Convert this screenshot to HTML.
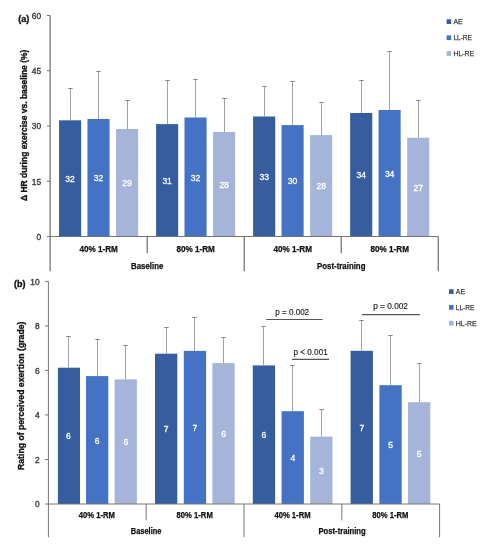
<!DOCTYPE html>
<html><head><meta charset="utf-8"><title>Figure</title>
<style>
html,body{margin:0;padding:0;background:#fff;}
body{width:487px;height:550px;overflow:hidden;}
svg{display:block;font-family:"Liberation Sans", sans-serif;filter:blur(0.3px);}
</style></head><body>
<svg width="487" height="550" viewBox="0 0 487 550">
<rect width="487" height="550" fill="#fff"/>
<rect x="59.05" y="120.30" width="22.10" height="116.20" fill="#355D9F"/>
<rect x="87.45" y="119.00" width="22.10" height="117.50" fill="#4472C4"/>
<rect x="116.05" y="129.00" width="22.10" height="107.50" fill="#A5B5DA"/>
<rect x="156.09" y="124.10" width="22.10" height="112.40" fill="#355D9F"/>
<rect x="184.49" y="117.50" width="22.10" height="119.00" fill="#4472C4"/>
<rect x="213.09" y="132.00" width="22.10" height="104.50" fill="#A5B5DA"/>
<rect x="253.13" y="116.50" width="22.10" height="120.00" fill="#355D9F"/>
<rect x="281.53" y="125.10" width="22.10" height="111.40" fill="#4472C4"/>
<rect x="310.12" y="135.10" width="22.10" height="101.40" fill="#A5B5DA"/>
<rect x="350.16" y="113.00" width="22.10" height="123.50" fill="#355D9F"/>
<rect x="378.56" y="110.00" width="22.10" height="126.50" fill="#4472C4"/>
<rect x="407.16" y="137.70" width="22.10" height="98.80" fill="#A5B5DA"/>
<line x1="70.50" y1="120.30" x2="70.50" y2="88.50" stroke="#A2A2A2" stroke-width="1.0"/>
<line x1="68.30" y1="88.50" x2="72.70" y2="88.50" stroke="#858585" stroke-width="1.0"/>
<line x1="98.50" y1="119.00" x2="98.50" y2="71.50" stroke="#A2A2A2" stroke-width="1.0"/>
<line x1="96.30" y1="71.50" x2="100.70" y2="71.50" stroke="#858585" stroke-width="1.0"/>
<line x1="127.50" y1="129.00" x2="127.50" y2="100.50" stroke="#A2A2A2" stroke-width="1.0"/>
<line x1="125.30" y1="100.50" x2="129.70" y2="100.50" stroke="#858585" stroke-width="1.0"/>
<line x1="167.50" y1="124.10" x2="167.50" y2="80.50" stroke="#A2A2A2" stroke-width="1.0"/>
<line x1="165.30" y1="80.50" x2="169.70" y2="80.50" stroke="#858585" stroke-width="1.0"/>
<line x1="195.50" y1="117.50" x2="195.50" y2="79.50" stroke="#A2A2A2" stroke-width="1.0"/>
<line x1="193.30" y1="79.50" x2="197.70" y2="79.50" stroke="#858585" stroke-width="1.0"/>
<line x1="224.50" y1="132.00" x2="224.50" y2="98.50" stroke="#A2A2A2" stroke-width="1.0"/>
<line x1="222.30" y1="98.50" x2="226.70" y2="98.50" stroke="#858585" stroke-width="1.0"/>
<line x1="264.50" y1="116.50" x2="264.50" y2="86.50" stroke="#A2A2A2" stroke-width="1.0"/>
<line x1="262.30" y1="86.50" x2="266.70" y2="86.50" stroke="#858585" stroke-width="1.0"/>
<line x1="292.50" y1="125.10" x2="292.50" y2="81.50" stroke="#A2A2A2" stroke-width="1.0"/>
<line x1="290.30" y1="81.50" x2="294.70" y2="81.50" stroke="#858585" stroke-width="1.0"/>
<line x1="321.50" y1="135.10" x2="321.50" y2="102.50" stroke="#A2A2A2" stroke-width="1.0"/>
<line x1="319.30" y1="102.50" x2="323.70" y2="102.50" stroke="#858585" stroke-width="1.0"/>
<line x1="361.50" y1="113.00" x2="361.50" y2="80.50" stroke="#A2A2A2" stroke-width="1.0"/>
<line x1="359.30" y1="80.50" x2="363.70" y2="80.50" stroke="#858585" stroke-width="1.0"/>
<line x1="389.50" y1="110.00" x2="389.50" y2="51.50" stroke="#A2A2A2" stroke-width="1.0"/>
<line x1="387.30" y1="51.50" x2="391.70" y2="51.50" stroke="#858585" stroke-width="1.0"/>
<line x1="418.50" y1="137.70" x2="418.50" y2="100.50" stroke="#A2A2A2" stroke-width="1.0"/>
<line x1="416.30" y1="100.50" x2="420.70" y2="100.50" stroke="#858585" stroke-width="1.0"/>
<text x="70.10" y="181.95" font-size="8.5" fill="#FFFFFF" text-anchor="middle" stroke="#FFFFFF" stroke-width="0.3">32</text>
<text x="98.50" y="181.30" font-size="8.5" fill="#FFFFFF" text-anchor="middle" stroke="#FFFFFF" stroke-width="0.3">32</text>
<text x="127.10" y="186.30" font-size="8.5" fill="#FFFFFF" text-anchor="middle" stroke="#FFFFFF" stroke-width="0.3">29</text>
<text x="167.14" y="183.85" font-size="8.5" fill="#FFFFFF" text-anchor="middle" stroke="#FFFFFF" stroke-width="0.3">31</text>
<text x="195.54" y="180.55" font-size="8.5" fill="#FFFFFF" text-anchor="middle" stroke="#FFFFFF" stroke-width="0.3">32</text>
<text x="224.14" y="187.80" font-size="8.5" fill="#FFFFFF" text-anchor="middle" stroke="#FFFFFF" stroke-width="0.3">28</text>
<text x="264.18" y="180.05" font-size="8.5" fill="#FFFFFF" text-anchor="middle" stroke="#FFFFFF" stroke-width="0.3">33</text>
<text x="292.58" y="184.35" font-size="8.5" fill="#FFFFFF" text-anchor="middle" stroke="#FFFFFF" stroke-width="0.3">30</text>
<text x="321.18" y="189.35" font-size="8.5" fill="#FFFFFF" text-anchor="middle" stroke="#FFFFFF" stroke-width="0.3">28</text>
<text x="361.21" y="178.30" font-size="8.5" fill="#FFFFFF" text-anchor="middle" stroke="#FFFFFF" stroke-width="0.3">34</text>
<text x="389.61" y="176.80" font-size="8.5" fill="#FFFFFF" text-anchor="middle" stroke="#FFFFFF" stroke-width="0.3">34</text>
<text x="418.21" y="190.65" font-size="8.5" fill="#FFFFFF" text-anchor="middle" stroke="#FFFFFF" stroke-width="0.3">27</text>
<line x1="50.15" y1="15.50" x2="50.15" y2="271.30" stroke="#767676" stroke-width="1.3"/>
<line x1="46.75" y1="15.50" x2="50.15" y2="15.50" stroke="#767676" stroke-width="1"/>
<text x="41.05" y="18.80" font-size="8.3" fill="#383838" text-anchor="end" stroke="#383838" stroke-width="0.35">60</text>
<line x1="46.75" y1="70.75" x2="50.15" y2="70.75" stroke="#767676" stroke-width="1"/>
<text x="41.05" y="74.05" font-size="8.3" fill="#383838" text-anchor="end" stroke="#383838" stroke-width="0.35">45</text>
<line x1="46.75" y1="126.00" x2="50.15" y2="126.00" stroke="#767676" stroke-width="1"/>
<text x="41.05" y="129.30" font-size="8.3" fill="#383838" text-anchor="end" stroke="#383838" stroke-width="0.35">30</text>
<line x1="46.75" y1="181.25" x2="50.15" y2="181.25" stroke="#767676" stroke-width="1"/>
<text x="41.05" y="184.55" font-size="8.3" fill="#383838" text-anchor="end" stroke="#383838" stroke-width="0.35">15</text>
<line x1="46.75" y1="236.50" x2="50.15" y2="236.50" stroke="#767676" stroke-width="1"/>
<text x="41.05" y="239.80" font-size="8.3" fill="#383838" text-anchor="end" stroke="#383838" stroke-width="0.35">0</text>
<line x1="50.15" y1="236.50" x2="438.30" y2="236.50" stroke="#767676" stroke-width="1"/>
<line x1="147.19" y1="236.50" x2="147.19" y2="253.30" stroke="#767676" stroke-width="1.3"/>
<line x1="341.26" y1="236.50" x2="341.26" y2="253.30" stroke="#767676" stroke-width="1.3"/>
<line x1="244.23" y1="236.50" x2="244.23" y2="271.30" stroke="#767676" stroke-width="1.3"/>
<line x1="438.30" y1="236.50" x2="438.30" y2="271.30" stroke="#767676" stroke-width="1.3"/>
<text x="98.67" y="251.90" font-size="8.2" fill="#111111" text-anchor="middle" font-weight="bold" textLength="38.40" lengthAdjust="spacingAndGlyphs" stroke="#111111" stroke-width="0.25">40% 1-RM</text>
<text x="195.71" y="251.90" font-size="8.2" fill="#111111" text-anchor="middle" font-weight="bold" textLength="38.40" lengthAdjust="spacingAndGlyphs" stroke="#111111" stroke-width="0.25">80% 1-RM</text>
<text x="292.74" y="251.90" font-size="8.2" fill="#111111" text-anchor="middle" font-weight="bold" textLength="38.40" lengthAdjust="spacingAndGlyphs" stroke="#111111" stroke-width="0.25">40% 1-RM</text>
<text x="389.78" y="251.90" font-size="8.2" fill="#111111" text-anchor="middle" font-weight="bold" textLength="38.40" lengthAdjust="spacingAndGlyphs" stroke="#111111" stroke-width="0.25">80% 1-RM</text>
<text x="147.19" y="269.20" font-size="8.2" fill="#111111" text-anchor="middle" font-weight="bold" textLength="32.20" lengthAdjust="spacingAndGlyphs" stroke="#111111" stroke-width="0.25">Baseline</text>
<text x="341.26" y="269.20" font-size="8.2" fill="#111111" text-anchor="middle" font-weight="bold" textLength="48.40" lengthAdjust="spacingAndGlyphs" stroke="#111111" stroke-width="0.25">Post-training</text>
<text x="26.80" y="125.35" font-size="9.6" fill="#111111" text-anchor="middle" font-weight="bold" textLength="151.30" lengthAdjust="spacingAndGlyphs" transform="rotate(-90 26.80 125.35)" stroke="#111111" stroke-width="0.35">Δ HR during exercise vs. baseline (%)</text>
<text x="18.20" y="21.60" font-size="9" fill="#111111" text-anchor="start" font-weight="bold" stroke="#111111" stroke-width="0.35">(a)</text>
<rect x="446.60" y="19.30" width="4.60" height="4.70" fill="#355D9F"/>
<text x="453.40" y="24.25" font-size="7.6" fill="#383838" text-anchor="start" textLength="9.20" lengthAdjust="spacingAndGlyphs" stroke="#383838" stroke-width="0.25">AE</text>
<rect x="446.60" y="35.35" width="4.60" height="4.70" fill="#4472C4"/>
<text x="453.40" y="40.30" font-size="7.6" fill="#383838" text-anchor="start" textLength="18.60" lengthAdjust="spacingAndGlyphs" stroke="#383838" stroke-width="0.25">LL-RE</text>
<rect x="446.60" y="51.15" width="4.60" height="4.70" fill="#A5B5DA"/>
<text x="453.40" y="56.10" font-size="7.6" fill="#383838" text-anchor="start" textLength="20.80" lengthAdjust="spacingAndGlyphs" stroke="#383838" stroke-width="0.25">HL-RE</text>
<rect x="57.90" y="367.70" width="22.10" height="136.30" fill="#355D9F"/>
<rect x="86.00" y="376.10" width="22.30" height="127.90" fill="#4472C4"/>
<rect x="114.60" y="379.40" width="22.30" height="124.60" fill="#A5B5DA"/>
<rect x="155.00" y="353.70" width="22.30" height="150.30" fill="#355D9F"/>
<rect x="183.80" y="350.90" width="22.30" height="153.10" fill="#4472C4"/>
<rect x="212.40" y="363.10" width="22.30" height="140.90" fill="#A5B5DA"/>
<rect x="252.80" y="365.40" width="22.30" height="138.60" fill="#355D9F"/>
<rect x="281.60" y="411.20" width="22.30" height="92.80" fill="#4472C4"/>
<rect x="310.20" y="436.60" width="22.30" height="67.40" fill="#A5B5DA"/>
<rect x="350.60" y="350.80" width="22.30" height="153.20" fill="#355D9F"/>
<rect x="379.40" y="385.20" width="22.30" height="118.80" fill="#4472C4"/>
<rect x="408.00" y="402.20" width="22.30" height="101.80" fill="#A5B5DA"/>
<line x1="68.50" y1="367.70" x2="68.50" y2="336.50" stroke="#A2A2A2" stroke-width="1.0"/>
<line x1="66.30" y1="336.50" x2="70.70" y2="336.50" stroke="#858585" stroke-width="1.0"/>
<line x1="97.50" y1="376.10" x2="97.50" y2="339.50" stroke="#A2A2A2" stroke-width="1.0"/>
<line x1="95.30" y1="339.50" x2="99.70" y2="339.50" stroke="#858585" stroke-width="1.0"/>
<line x1="125.50" y1="379.40" x2="125.50" y2="345.50" stroke="#A2A2A2" stroke-width="1.0"/>
<line x1="123.30" y1="345.50" x2="127.70" y2="345.50" stroke="#858585" stroke-width="1.0"/>
<line x1="166.50" y1="353.70" x2="166.50" y2="327.50" stroke="#A2A2A2" stroke-width="1.0"/>
<line x1="164.30" y1="327.50" x2="168.70" y2="327.50" stroke="#858585" stroke-width="1.0"/>
<line x1="194.50" y1="350.90" x2="194.50" y2="317.50" stroke="#A2A2A2" stroke-width="1.0"/>
<line x1="192.30" y1="317.50" x2="196.70" y2="317.50" stroke="#858585" stroke-width="1.0"/>
<line x1="223.50" y1="363.10" x2="223.50" y2="337.50" stroke="#A2A2A2" stroke-width="1.0"/>
<line x1="221.30" y1="337.50" x2="225.70" y2="337.50" stroke="#858585" stroke-width="1.0"/>
<line x1="263.50" y1="365.40" x2="263.50" y2="326.50" stroke="#A2A2A2" stroke-width="1.0"/>
<line x1="261.30" y1="326.50" x2="265.70" y2="326.50" stroke="#858585" stroke-width="1.0"/>
<line x1="292.50" y1="411.20" x2="292.50" y2="365.50" stroke="#A2A2A2" stroke-width="1.0"/>
<line x1="290.30" y1="365.50" x2="294.70" y2="365.50" stroke="#858585" stroke-width="1.0"/>
<line x1="321.50" y1="436.60" x2="321.50" y2="409.50" stroke="#A2A2A2" stroke-width="1.0"/>
<line x1="319.30" y1="409.50" x2="323.70" y2="409.50" stroke="#858585" stroke-width="1.0"/>
<line x1="361.50" y1="350.80" x2="361.50" y2="320.50" stroke="#A2A2A2" stroke-width="1.0"/>
<line x1="359.30" y1="320.50" x2="363.70" y2="320.50" stroke="#858585" stroke-width="1.0"/>
<line x1="390.50" y1="385.20" x2="390.50" y2="335.50" stroke="#A2A2A2" stroke-width="1.0"/>
<line x1="388.30" y1="335.50" x2="392.70" y2="335.50" stroke="#858585" stroke-width="1.0"/>
<line x1="419.50" y1="402.20" x2="419.50" y2="363.50" stroke="#A2A2A2" stroke-width="1.0"/>
<line x1="417.30" y1="363.50" x2="421.70" y2="363.50" stroke="#858585" stroke-width="1.0"/>
<text x="68.35" y="439.40" font-size="8.5" fill="#FFFFFF" text-anchor="middle" stroke="#FFFFFF" stroke-width="0.3">6</text>
<text x="97.15" y="443.60" font-size="8.5" fill="#FFFFFF" text-anchor="middle" stroke="#FFFFFF" stroke-width="0.3">6</text>
<text x="125.75" y="445.25" font-size="8.5" fill="#FFFFFF" text-anchor="middle" stroke="#FFFFFF" stroke-width="0.3">6</text>
<text x="166.15" y="432.40" font-size="8.5" fill="#FFFFFF" text-anchor="middle" stroke="#FFFFFF" stroke-width="0.3">7</text>
<text x="194.95" y="431.00" font-size="8.5" fill="#FFFFFF" text-anchor="middle" stroke="#FFFFFF" stroke-width="0.3">7</text>
<text x="223.55" y="437.10" font-size="8.5" fill="#FFFFFF" text-anchor="middle" stroke="#FFFFFF" stroke-width="0.3">6</text>
<text x="263.95" y="438.25" font-size="8.5" fill="#FFFFFF" text-anchor="middle" stroke="#FFFFFF" stroke-width="0.3">6</text>
<text x="292.75" y="461.15" font-size="8.5" fill="#FFFFFF" text-anchor="middle" stroke="#FFFFFF" stroke-width="0.3">4</text>
<text x="321.35" y="473.85" font-size="8.5" fill="#FFFFFF" text-anchor="middle" stroke="#FFFFFF" stroke-width="0.3">3</text>
<text x="361.75" y="430.95" font-size="8.5" fill="#FFFFFF" text-anchor="middle" stroke="#FFFFFF" stroke-width="0.3">7</text>
<text x="390.55" y="448.15" font-size="8.5" fill="#FFFFFF" text-anchor="middle" stroke="#FFFFFF" stroke-width="0.3">5</text>
<text x="419.15" y="456.65" font-size="8.5" fill="#FFFFFF" text-anchor="middle" stroke="#FFFFFF" stroke-width="0.3">5</text>
<line x1="48.40" y1="281.40" x2="48.40" y2="537.20" stroke="#767676" stroke-width="1.0"/>
<line x1="45.00" y1="281.40" x2="48.40" y2="281.40" stroke="#767676" stroke-width="1"/>
<text x="39.60" y="284.70" font-size="8.3" fill="#383838" text-anchor="end" stroke="#383838" stroke-width="0.35">10</text>
<line x1="45.00" y1="325.92" x2="48.40" y2="325.92" stroke="#767676" stroke-width="1"/>
<text x="39.60" y="329.22" font-size="8.3" fill="#383838" text-anchor="end" stroke="#383838" stroke-width="0.35">8</text>
<line x1="45.00" y1="370.44" x2="48.40" y2="370.44" stroke="#767676" stroke-width="1"/>
<text x="39.60" y="373.74" font-size="8.3" fill="#383838" text-anchor="end" stroke="#383838" stroke-width="0.35">6</text>
<line x1="45.00" y1="414.96" x2="48.40" y2="414.96" stroke="#767676" stroke-width="1"/>
<text x="39.60" y="418.26" font-size="8.3" fill="#383838" text-anchor="end" stroke="#383838" stroke-width="0.35">4</text>
<line x1="45.00" y1="459.48" x2="48.40" y2="459.48" stroke="#767676" stroke-width="1"/>
<text x="39.60" y="462.78" font-size="8.3" fill="#383838" text-anchor="end" stroke="#383838" stroke-width="0.35">2</text>
<line x1="45.00" y1="504.00" x2="48.40" y2="504.00" stroke="#767676" stroke-width="1"/>
<text x="39.60" y="507.30" font-size="8.3" fill="#383838" text-anchor="end" stroke="#383838" stroke-width="0.35">0</text>
<line x1="48.40" y1="504.00" x2="439.60" y2="504.00" stroke="#767676" stroke-width="1"/>
<line x1="146.20" y1="504.00" x2="146.20" y2="520.40" stroke="#767676" stroke-width="1.0"/>
<line x1="341.80" y1="504.00" x2="341.80" y2="520.40" stroke="#767676" stroke-width="1.0"/>
<line x1="244.00" y1="504.00" x2="244.00" y2="537.20" stroke="#767676" stroke-width="1.0"/>
<line x1="439.60" y1="504.00" x2="439.60" y2="537.20" stroke="#767676" stroke-width="1.0"/>
<text x="96.90" y="517.90" font-size="8.2" fill="#111111" text-anchor="middle" font-weight="bold" textLength="36.20" lengthAdjust="spacingAndGlyphs" stroke="#111111" stroke-width="0.25">40% 1-RM</text>
<text x="194.70" y="517.90" font-size="8.2" fill="#111111" text-anchor="middle" font-weight="bold" textLength="36.20" lengthAdjust="spacingAndGlyphs" stroke="#111111" stroke-width="0.25">80% 1-RM</text>
<text x="292.50" y="517.90" font-size="8.2" fill="#111111" text-anchor="middle" font-weight="bold" textLength="36.20" lengthAdjust="spacingAndGlyphs" stroke="#111111" stroke-width="0.25">40% 1-RM</text>
<text x="390.30" y="517.90" font-size="8.2" fill="#111111" text-anchor="middle" font-weight="bold" textLength="36.20" lengthAdjust="spacingAndGlyphs" stroke="#111111" stroke-width="0.25">80% 1-RM</text>
<text x="146.10" y="534.30" font-size="8.2" fill="#111111" text-anchor="middle" font-weight="bold" textLength="30.60" lengthAdjust="spacingAndGlyphs" stroke="#111111" stroke-width="0.25">Baseline</text>
<text x="342.10" y="534.30" font-size="8.2" fill="#111111" text-anchor="middle" font-weight="bold" textLength="47.20" lengthAdjust="spacingAndGlyphs" stroke="#111111" stroke-width="0.25">Post-training</text>
<text x="24.10" y="395.80" font-size="9.6" fill="#111111" text-anchor="middle" font-weight="bold" textLength="148.40" lengthAdjust="spacingAndGlyphs" transform="rotate(-90 24.10 395.80)" stroke="#111111" stroke-width="0.35">Rating of perceived exertion (grade)</text>
<text x="14.10" y="287.30" font-size="9" fill="#111111" text-anchor="start" font-weight="bold" stroke="#111111" stroke-width="0.35">(b)</text>
<rect x="449.00" y="289.25" width="4.60" height="4.70" fill="#355D9F"/>
<text x="455.80" y="294.20" font-size="7.6" fill="#383838" text-anchor="start" textLength="9.20" lengthAdjust="spacingAndGlyphs" stroke="#383838" stroke-width="0.25">AE</text>
<rect x="449.00" y="305.05" width="4.60" height="4.70" fill="#4472C4"/>
<text x="455.80" y="310.00" font-size="7.6" fill="#383838" text-anchor="start" textLength="18.60" lengthAdjust="spacingAndGlyphs" stroke="#383838" stroke-width="0.25">LL-RE</text>
<rect x="449.00" y="320.85" width="4.60" height="4.70" fill="#A5B5DA"/>
<text x="455.80" y="325.80" font-size="7.6" fill="#383838" text-anchor="start" textLength="20.80" lengthAdjust="spacingAndGlyphs" stroke="#383838" stroke-width="0.25">HL-RE</text>
<line x1="266.20" y1="319.50" x2="322.60" y2="319.50" stroke="#555555" stroke-width="1.2"/>
<text x="292.20" y="315.10" font-size="8.4" fill="#2a2a2a" text-anchor="middle" textLength="33.80" lengthAdjust="spacingAndGlyphs" stroke="#2a2a2a" stroke-width="0.2">p = 0.002</text>
<line x1="292.10" y1="359.30" x2="329.00" y2="359.30" stroke="#555555" stroke-width="1.2"/>
<text x="310.60" y="354.80" font-size="8.4" fill="#2a2a2a" text-anchor="middle" textLength="34.20" lengthAdjust="spacingAndGlyphs" stroke="#2a2a2a" stroke-width="0.2">p &lt; 0.001</text>
<line x1="361.90" y1="314.70" x2="419.90" y2="314.70" stroke="#555555" stroke-width="1.2"/>
<text x="390.60" y="309.10" font-size="8.4" fill="#2a2a2a" text-anchor="middle" textLength="34.80" lengthAdjust="spacingAndGlyphs" stroke="#2a2a2a" stroke-width="0.2">p = 0.002</text>
</svg>
</body></html>
